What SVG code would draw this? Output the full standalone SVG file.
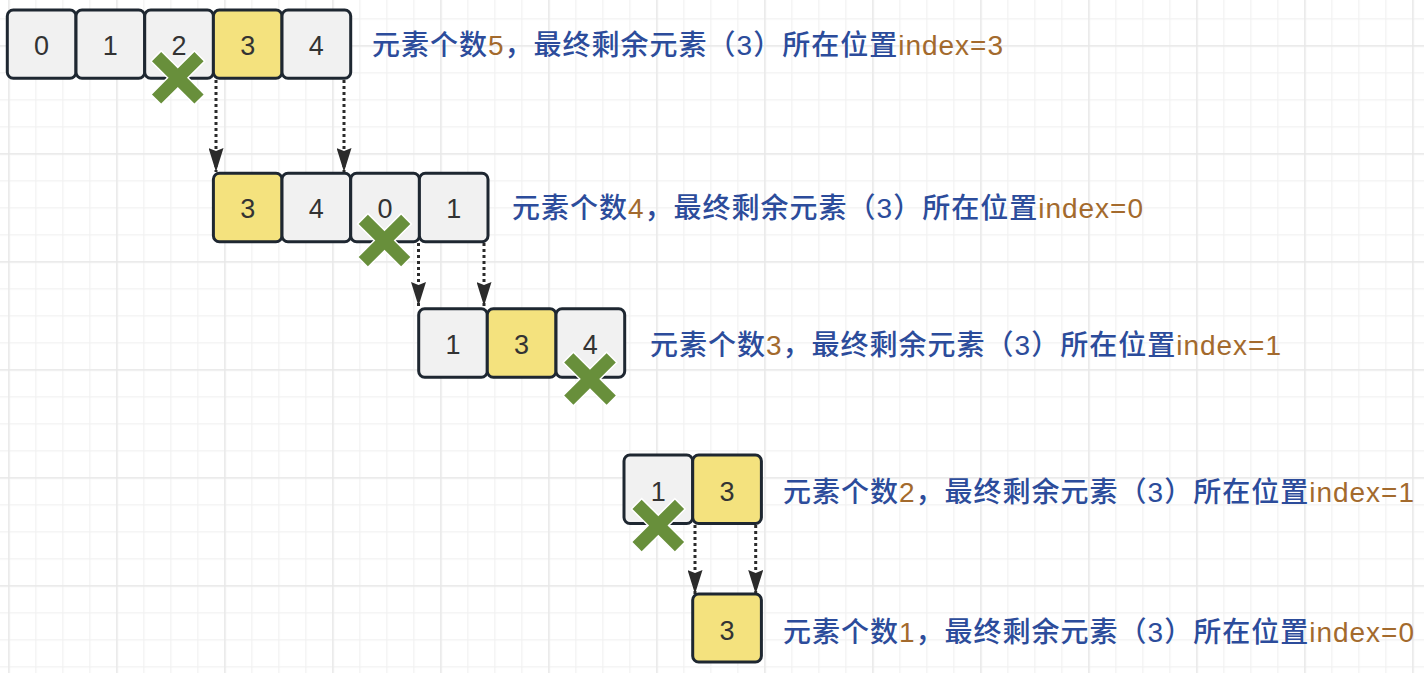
<svg xmlns="http://www.w3.org/2000/svg" width="1424" height="673" viewBox="0 0 1424 673">
  <defs>
    <pattern id="minor" patternUnits="userSpaceOnUse" x="8.3" y="18.3" width="27" height="27">
      <path d="M0.5,0 V27 M0,0.5 H27" stroke="#f1f1f1" stroke-width="1.3" fill="none"/>
    </pattern>
    <pattern id="major" patternUnits="userSpaceOnUse" x="8.3" y="45.3" width="108" height="108">
      <path d="M0.5,0 V108 M0,0.5 H108" stroke="#e7e7e7" stroke-width="1.5" fill="none"/>
    </pattern>
    <marker id="arrow" markerUnits="userSpaceOnUse" viewBox="0 0 24 15" refX="24" refY="7.5" markerWidth="24" markerHeight="15" orient="auto">
      <path d="M0,0 L24,7.5 L0,15 L3,7.5 Z" fill="#2b2b2b"/>
    </marker>
    <path id="cross" d="M-6.5,-30 H6.5 V-6.5 H30 V6.5 H6.5 V30 H-6.5 V6.5 H-30 V-6.5 H-6.5 Z" transform="rotate(45)"/>
    <style>
      .box { stroke: #1e2731; stroke-width: 3; }
      .g { fill: #f1f1f1; }
      .y { fill: #f4e27e; }
      .d { font-family: "Liberation Sans", Arial, sans-serif; font-size: 27px; fill: #333333; text-anchor: middle; }
      .lbl { font-family: "Liberation Sans", "Noto Sans CJK SC", sans-serif; font-size: 28px; font-weight: 500; letter-spacing: 1px; fill: #2c4c9b; }
      .num { fill: #a36a2d; }
      .x { fill: #688f3b; stroke: #ffffff; stroke-width: 3; paint-order: stroke; }
      .conn { stroke: #2b2b2b; stroke-width: 3; stroke-dasharray: 3 3; fill: none; marker-end: url(#arrow); }
    </style>
  </defs>

  <rect width="1424" height="673" fill="#ffffff"/>
  <rect width="1424" height="673" fill="url(#minor)"/>
  <rect width="1424" height="673" fill="url(#major)"/>

  <g id="connectors">
    <line class="conn" x1="216" y1="80" x2="216" y2="172"/>
    <line class="conn" x1="344" y1="80" x2="344" y2="172"/>
    <line class="conn" x1="418.5" y1="243" x2="418.5" y2="306"/>
    <line class="conn" x1="484" y1="243" x2="484" y2="306"/>
    <line class="conn" x1="695" y1="525" x2="695" y2="594"/>
    <line class="conn" x1="755.7" y1="525" x2="755.7" y2="594"/>
  </g>

  <g id="row1">
    <g id="r1-0"><rect class="box g" x="7.3" y="10" width="68.7" height="68.3" rx="6"/><text class="d" x="41.6" y="55">0</text></g>
    <g id="r1-1"><rect class="box g" x="76" y="10" width="68.7" height="68.3" rx="6"/><text class="d" x="110.3" y="55">1</text></g>
    <g id="r1-2"><rect class="box g" x="144.7" y="10" width="68.7" height="68.3" rx="6"/><text class="d" x="179" y="55">2</text></g>
    <g id="r1-3"><rect class="box y" x="213.4" y="10" width="68.6" height="68.3" rx="6"/><text class="d" x="247.7" y="55">3</text></g>
    <g id="r1-4"><rect class="box g" x="282" y="10" width="68.7" height="68.3" rx="6"/><text class="d" x="316.3" y="55">4</text></g>
  </g>
  <g id="row2">
    <g id="r2-3"><rect class="box y" x="213.4" y="173.3" width="68.6" height="68.4" rx="6"/><text class="d" x="247.7" y="218.3">3</text></g>
    <g id="r2-4"><rect class="box g" x="282" y="173.3" width="68.7" height="68.4" rx="6"/><text class="d" x="316.3" y="218.3">4</text></g>
    <g id="r2-0"><rect class="box g" x="350.7" y="173.3" width="68.7" height="68.4" rx="6"/><text class="d" x="385" y="218.3">0</text></g>
    <g id="r2-1"><rect class="box g" x="419.4" y="173.3" width="68.6" height="68.4" rx="6"/><text class="d" x="453.7" y="218.3">1</text></g>
  </g>
  <g id="row3">
    <g id="r3-1"><rect class="box g" x="418.7" y="308.7" width="68.6" height="68.6" rx="6"/><text class="d" x="453" y="354">1</text></g>
    <g id="r3-3"><rect class="box y" x="487.3" y="308.7" width="68.7" height="68.6" rx="6"/><text class="d" x="521.6" y="354">3</text></g>
    <g id="r3-4"><rect class="box g" x="556" y="308.7" width="68.7" height="68.6" rx="6"/><text class="d" x="590.3" y="354">4</text></g>
  </g>
  <g id="row4">
    <g id="r4-1"><rect class="box g" x="624" y="455" width="68.7" height="68.5" rx="6"/><text class="d" x="658.3" y="500.5">1</text></g>
    <g id="r4-3"><rect class="box y" x="692.7" y="455" width="68.7" height="68.5" rx="6"/><text class="d" x="727" y="500.5">3</text></g>
  </g>
  <g id="row5">
    <g id="r5-3"><rect class="box y" x="692.7" y="594" width="68.7" height="68" rx="6"/><text class="d" x="727" y="639.5">3</text></g>
  </g>

  <g id="crosses">
    <use href="#cross" class="x" x="177.8" y="77.8"/>
    <use href="#cross" class="x" x="384.5" y="240.5"/>
    <use href="#cross" class="x" x="590" y="379"/>
    <use href="#cross" class="x" x="658.3" y="525.5"/>
  </g>

  <g id="labels">
    <text id="label1" class="lbl" x="372" y="55">元素个数<tspan class="num">5</tspan>，最终剩余元素（3）所在位置<tspan class="num">index=3</tspan></text>
    <text id="label2" class="lbl" x="512" y="218.3">元素个数<tspan class="num">4</tspan>，最终剩余元素（3）所在位置<tspan class="num">index=0</tspan></text>
    <text id="label3" class="lbl" x="650" y="355">元素个数<tspan class="num">3</tspan>，最终剩余元素（3）所在位置<tspan class="num">index=1</tspan></text>
    <text id="label4" class="lbl" x="783" y="501.5">元素个数<tspan class="num">2</tspan>，最终剩余元素（3）所在位置<tspan class="num">index=1</tspan></text>
    <text id="label5" class="lbl" x="783" y="641.5">元素个数<tspan class="num">1</tspan>，最终剩余元素（3）所在位置<tspan class="num">index=0</tspan></text>
  </g>
</svg>
